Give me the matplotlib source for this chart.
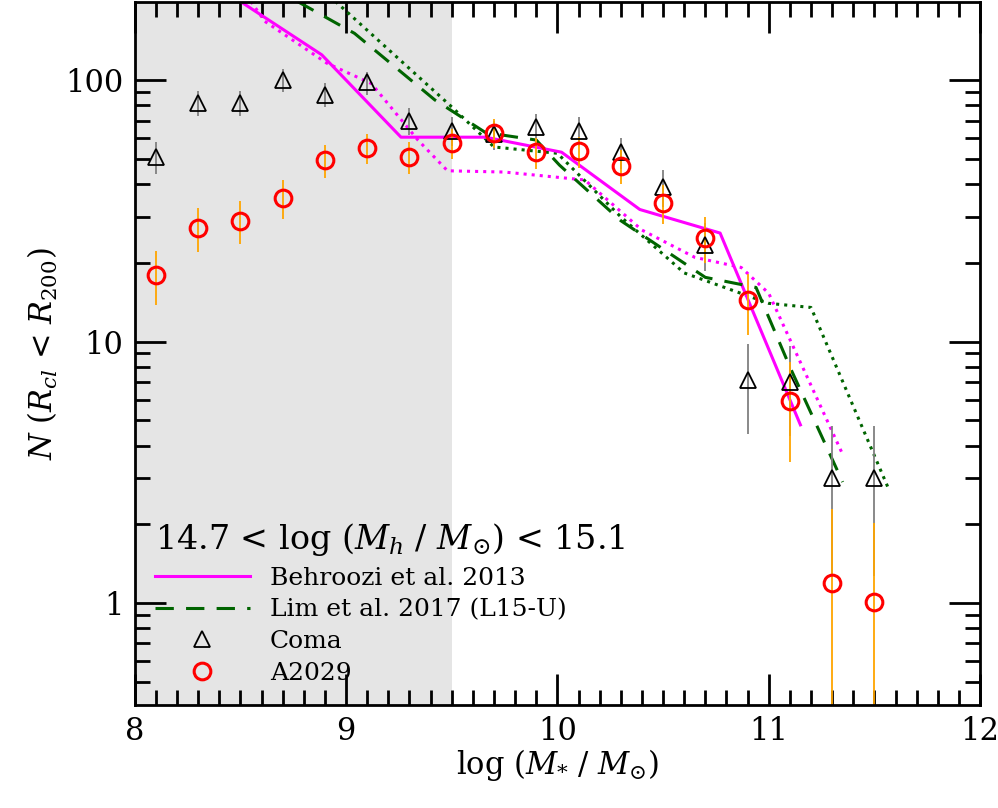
import numpy as np
import matplotlib
matplotlib.use("Agg")
import matplotlib.pyplot as plt
from matplotlib.ticker import MultipleLocator, FixedLocator, NullFormatter

plt.rcParams['font.family'] = 'DejaVu Serif'
plt.rcParams['mathtext.fontset'] = 'dejavuserif'

# observed counts
mass_bins = [8.1, 8.3, 8.5, 8.7, 8.9, 9.1, 9.3, 9.5, 9.7, 9.9, 10.1, 10.3, 10.5, 10.7, 10.9, 11.1, 11.3, 11.5]
coma_n = [51, 82, 82, 100, 88, 98, 70, 64, 62, 66, 64, 53, 39, 23.5, 7.1, 7.0, 3.0, 3.0]
a2029_n = [18, 27.3, 29, 35.4, 49.4, 55, 51, 57.5, 63, 53, 53.5, 47, 34, 25, 14.4, 5.9, 1.19, 1.01]

# model curves
beh_x = [8.5, 8.885, 9.26, 9.66, 10.02, 10.39, 10.77, 11.15]
beh_y = [200, 125, 60.5, 60.5, 53, 32, 26, 4.8]
beh2_x = [8.55, 8.615, 8.91, 9.12, 9.34, 9.48, 9.75, 10.13, 10.4, 10.65, 10.87, 11.0, 11.35]
beh2_y = [200, 168, 116, 97, 59, 45, 44.5, 41.5, 26.7, 21, 19.2, 15.3, 3.7]
lim_x = [8.77, 9.04, 9.42, 9.66, 9.9, 10.01, 10.3, 10.7, 10.94, 11.1, 11.35]
lim_y = [200, 151, 84, 63, 59, 47.3, 29, 17.6, 16.1, 8.0, 2.9]
lim2_x = [8.95, 9.5, 9.7, 10.0, 10.3, 10.6, 11.0, 11.2, 11.57]
lim2_y = [200, 79, 55.5, 52.5, 30, 18.3, 14, 13.5, 2.7]

fig = plt.figure(figsize=(9.98, 8.08), dpi=100)
ax = fig.add_axes([0.135, 0.1275, 0.847, 0.87])
ax.set_xlim(8, 12)
ax.set_ylim(0.407, 199)
ax.set_yscale('log')
ax.axvspan(8, 9.5, color='#e5e5e5', zorder=0, lw=0)

ax.plot(beh2_x, beh2_y, ':', color='magenta', lw=2.2)
ax.plot(lim2_x, lim2_y, ':', color='darkgreen', lw=2.2)
ax.plot(beh_x, beh_y, '-', color='magenta', lw=2.2, label='Behroozi et al. 2013')
ax.plot(lim_x, lim_y, '--', color='darkgreen', lw=2.2, dashes=(6, 4), label='Lim et al. 2017 (L15-U)')

coma_n = np.array(coma_n)
a2029_n = np.array(a2029_n)
ax.errorbar(mass_bins, coma_n, yerr=np.sqrt(coma_n), fmt='none', ecolor='gray', elinewidth=1.3)
ax.errorbar(mass_bins, a2029_n, yerr=np.sqrt(a2029_n), fmt='none', ecolor='orange', elinewidth=1.3)
ax.plot(mass_bins, coma_n, '^', mfc='none', mec='black', ms=11, mew=1.3, ls='none', label='Coma')
ax.plot(mass_bins, a2029_n, 'o', mfc='none', mec='red', ms=12, mew=2.2, ls='none', label='A2029')

ax.xaxis.set_major_locator(MultipleLocator(1))
ax.xaxis.set_minor_locator(MultipleLocator(0.1))
ax.yaxis.set_major_locator(FixedLocator([1, 10, 100]))
ax.set_yticklabels(['1', '10', '100'])
ax.yaxis.set_minor_formatter(NullFormatter())
ax.tick_params(which='both', direction='in', top=True, right=True, labelsize=22, width=2)
ax.tick_params(which='major', length=22, pad=8)
ax.tick_params(which='minor', length=11)
for s in ax.spines.values():
    s.set_linewidth(2)

ax.set_xlabel(r'log ($M_{*}$ / $M_{\odot}$)', fontsize=22, labelpad=0)
ax.set_ylabel(r'$N$ ($R_{cl}$ < $R_{200}$)', fontsize=22)

leg = ax.legend(loc='lower left', frameon=False, fontsize=18, handlelength=3.8,
                title=r'14.7 < log ($M_h$ / $M_{\odot}$) < 15.1', title_fontsize=24,
                borderaxespad=0.4, labelspacing=0.35, markerscale=1.0)
leg._legend_box.align = 'left'

fig.savefig('out.png', dpi=100)
